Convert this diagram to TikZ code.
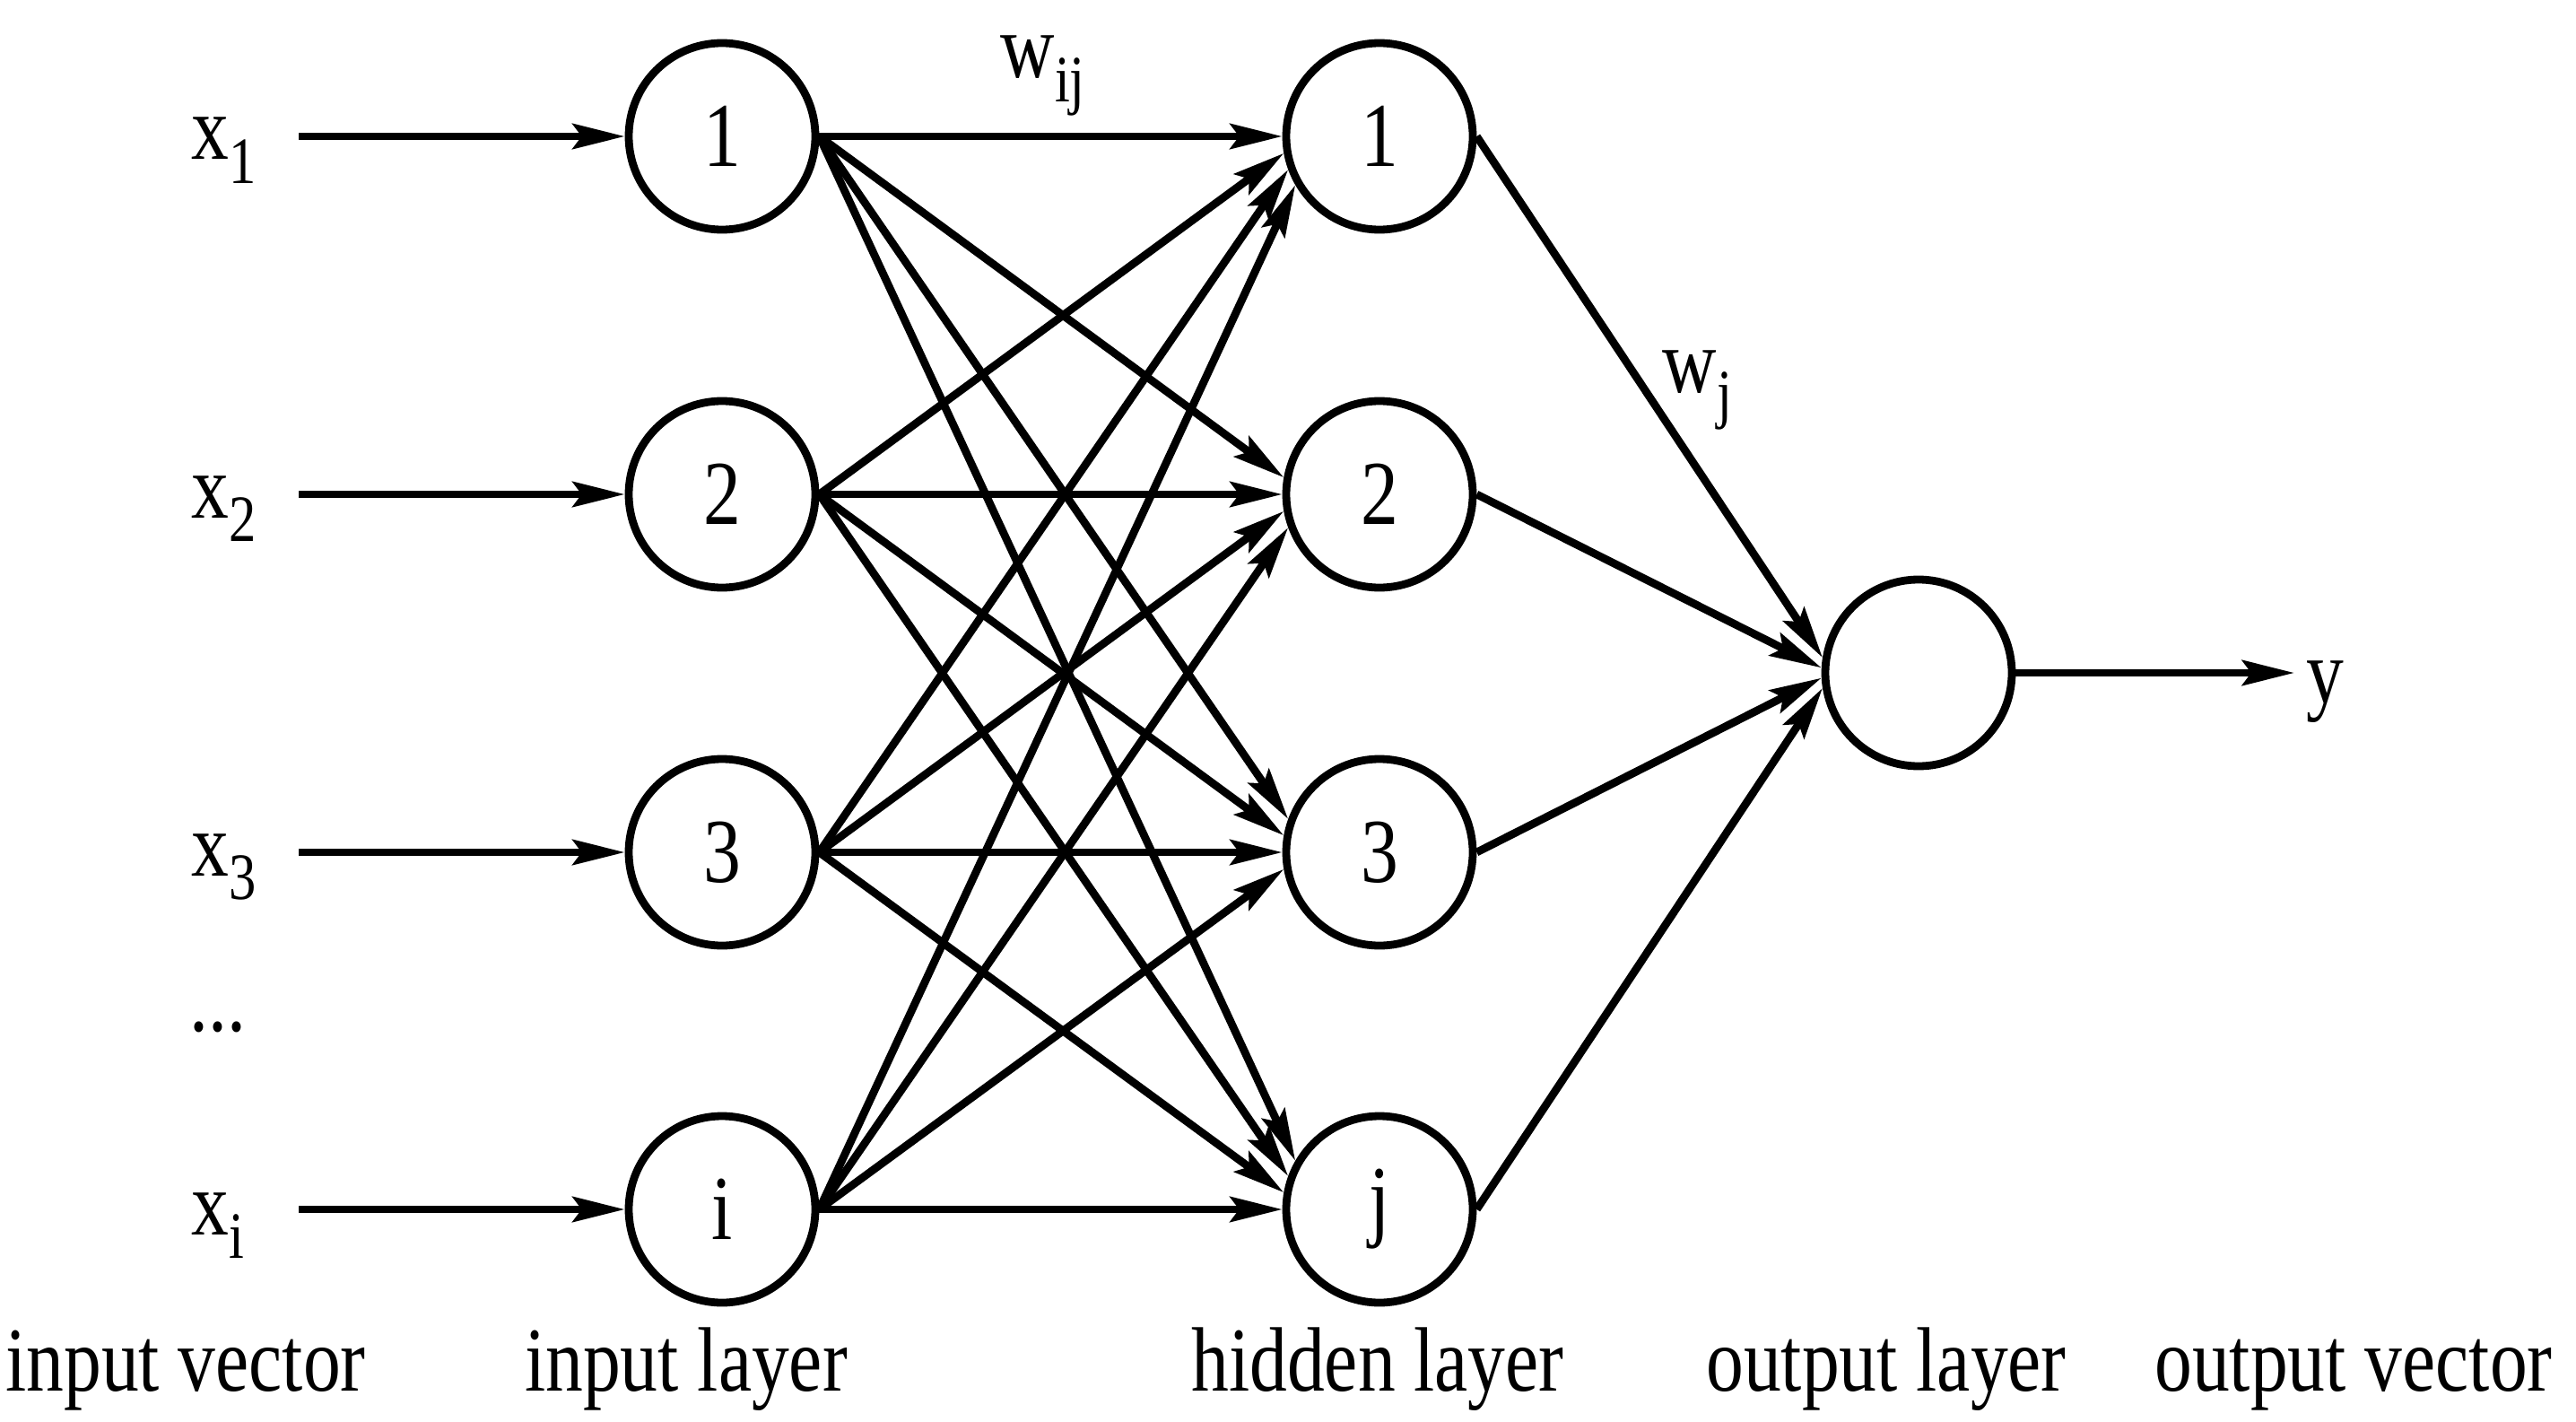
\documentclass[tikz,border=0pt]{standalone}
\usepackage{fontspec}
\setmainfont{Liberation Serif}[FakeStretch=0.82]
\usetikzlibrary{arrows.meta}

\newcommand{\bigtext}{\fontsize{29}{32}\selectfont}
\newcommand{\lowsub}[1]{\raisebox{-0.26em}{\fontsize{21}{21}\selectfont #1}}

\tikzset{
  neuron/.style={draw, circle, line width=2.5pt, minimum size=2.08cm, inner sep=0pt, font=\bigtext},
  lbl/.style={inner sep=0pt, font=\bigtext},
  link/.style={->, line width=2.5pt},
  >={Stealth[length=5.8mm, width=2.8mm, inset=1mm]}
}

\begin{document}
\begin{tikzpicture}
            \useasboundingbox (0,0) rectangle (28.72,-15.85);

            \node[neuron] (in1) at (8.05,-1.52) {1};
            \node[neuron] (in2) at (8.05,-5.51) {2};
            \node[neuron] (in3) at (8.05,-9.50) {3};
            \node[neuron] (in4) at (8.05,-13.48) {i};

            \node[neuron] (hid1) at (15.38,-1.52) {1};
            \node[neuron] (hid2) at (15.38,-5.51) {2};
            \node[neuron] (hid3) at (15.38,-9.50) {3};
            \node[neuron] (hid4) at (15.38,-13.48) {j};

            \node[neuron] (out) at (21.39,-7.50) {};

            \node[lbl, anchor=base west] (x1) at (2.13,-1.78) {x\lowsub{1}};
            \node[lbl, anchor=base west] (x2) at (2.13,-5.77) {x\lowsub{2}};
            \node[lbl, anchor=base west] (x3) at (2.13,-9.76) {x\lowsub{3}};
            \node[lbl, anchor=base west] (xdots) at (2.11,-11.49) {...};
            \node[lbl, anchor=base west] (xi) at (2.13,-13.76) {x\lowsub{i}};
            \node[lbl, anchor=base west] (y) at (25.71,-7.83) {y};

            \node[lbl, anchor=base west] (wij) at (11.15,-0.87) {w\lowsub{ij}};
            \node[lbl, anchor=base west] (wj) at (18.53,-4.37) {w\lowsub{j}};

            \node[lbl, anchor=base] (invec) at (2.07,-15.50) {input vector};
            \node[lbl, anchor=base] (inlay) at (7.65,-15.50) {input layer};
            \node[lbl, anchor=base] (hidlay) at (15.36,-15.50) {hidden layer};
            \node[lbl, anchor=base] (outlay) at (21.03,-15.50) {output layer};
            \node[lbl, anchor=base] (outvec) at (26.24,-15.50) {output vector};

            \coordinate (s1) at (3.33,-1.52);
            \coordinate (s2) at (3.33,-5.51);
            \coordinate (s3) at (3.33,-9.50);
            \coordinate (s4) at (3.33,-13.48);
            \coordinate (yend) at (25.58,-7.50);

            % inputs
            \draw[link] (s1) -- (in1);
            \draw[link] (s2) -- (in2);
            \draw[link] (s3) -- (in3);
            \draw[link] (s4) -- (in4);

            % input layer to hidden layer
            \draw[link] (in1.east) -- (hid1.180);
            \draw[link] (in2.east) -- (hid1.190);
            \draw[link] (in3.east) -- (hid1.200);
            \draw[link] (in4.east) -- (hid1.210);
            \draw[link] (in1.east) -- (hid2.170);
            \draw[link] (in2.east) -- (hid2.180);
            \draw[link] (in3.east) -- (hid2.190);
            \draw[link] (in4.east) -- (hid2.200);
            \draw[link] (in1.east) -- (hid3.160);
            \draw[link] (in2.east) -- (hid3.170);
            \draw[link] (in3.east) -- (hid3.180);
            \draw[link] (in4.east) -- (hid3.190);
            \draw[link] (in1.east) -- (hid4.150);
            \draw[link] (in2.east) -- (hid4.160);
            \draw[link] (in3.east) -- (hid4.170);
            \draw[link] (in4.east) -- (hid4.180);

            % hidden layer to output
            \draw[link] (hid1.east) -- (out.171);
            \draw[link] (hid2.east) -- (out.177);
            \draw[link] (hid3.east) -- (out.183);
            \draw[link] (hid4.east) -- (out.189);

            \draw[link] (out.east) -- (yend);
        \end{tikzpicture}
\end{document}
